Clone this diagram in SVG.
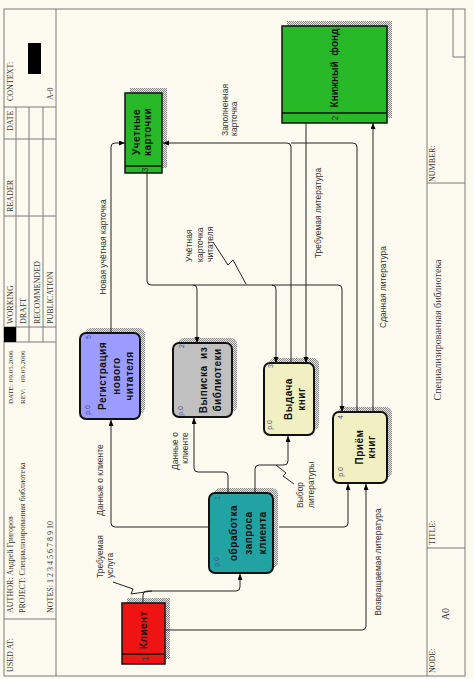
<svg xmlns="http://www.w3.org/2000/svg" width="474" height="679" viewBox="0 0 474 679">
<defs>
<pattern id="hatch" width="2" height="2" patternUnits="userSpaceOnUse">
<rect width="2" height="2" fill="#e4e4e4"/>
<rect width="1" height="1" fill="#8a8a8a"/>
<rect x="1" y="1" width="1" height="1" fill="#8a8a8a"/>
</pattern>
<marker id="ah" markerWidth="7" markerHeight="6" refX="6" refY="2.5" orient="auto" markerUnits="userSpaceOnUse">
<path d="M0,0 L6,2.5 L0,5 Z" fill="#000"/>
</marker>
<style>
.fr{fill:none;stroke:#7a7a7a;stroke-width:1}
.hd{font-family:"Liberation Serif","Times New Roman",serif;font-size:8px;fill:#333}
.hs{font-family:"Liberation Serif","Times New Roman",serif;font-size:7px;fill:#333}
.ttl{font-family:"Liberation Serif","Times New Roman",serif;font-size:10px;fill:#333}
.bx{font-family:"Liberation Sans",Arial,sans-serif;font-size:10px;font-weight:bold;fill:#111;letter-spacing:0.5px}
.lb{font-family:"Liberation Sans",Arial,sans-serif;font-size:8.5px;fill:#333}
.sm{font-family:"Liberation Sans",Arial,sans-serif;font-size:7px;fill:#4a4a8a}
.cn{fill:none;stroke:#222;stroke-width:1}
.ar{marker-end:url(#ah)}
.act{stroke:#111;stroke-width:2}
.ext{stroke:#111;stroke-width:1.5}
.sh{fill:url(#hatch)}
</style>
</defs>
<rect x="0" y="0" width="474" height="679" fill="#fdfbf0"/>

<g id="frame">
<rect x="4" y="9" width="461" height="667" class="fr"/>
<path class="fr" d="M56,9 V676 M427,9 V676 M4,107 H56 M4,139 H56 M4,216 H56 M4,327 H56 M4,342 H56 M4,619 H56 M16,107 V342 M29,107 V342 M43,107 V342 M427,183 H465 M427,548 H465 M453,9 V57 H465"/>
<rect x="28" y="43" width="13" height="31" fill="#000"/>
<rect x="4" y="327" width="12" height="15" fill="#000"/>
<text class="hd" transform="translate(13,101) rotate(-90)">CONTEXT:</text>
<text class="hd" transform="translate(53,100) rotate(-90)">A-0</text>
<text class="hd" transform="translate(13,131) rotate(-90)">DATE</text>
<text class="hd" transform="translate(13,212) rotate(-90)">READER</text>
<text class="hd" transform="translate(13,324) rotate(-90)">WORKING</text>
<text class="hd" transform="translate(26,324) rotate(-90)">DRAFT</text>
<text class="hd" transform="translate(40,324) rotate(-90)">RECOMMENDED</text>
<text class="hd" transform="translate(53,324) rotate(-90)">PUBLICATION</text>
<text class="hs" transform="translate(13,404) rotate(-90)">DATE:</text>
<text class="hs" transform="translate(13,382) rotate(-90)">09.05.2006</text>
<text class="hs" transform="translate(25,404) rotate(-90)">REV:</text>
<text class="hs" transform="translate(25,382) rotate(-90)">09.05.2006</text>
<text class="hd" transform="translate(13,613) rotate(-90)">AUTHOR:  Андрей Григоров</text>
<text class="hd" transform="translate(25,613) rotate(-90)">PROJECT:  Специализированная библиотека</text>
<text class="hd" transform="translate(53,613) rotate(-90)">NOTES:  1  2  3  4  5  6  7  8  9  10</text>
<text class="hd" transform="translate(13,672) rotate(-90)">USED AT:</text>
<text class="hd" transform="translate(435,182) rotate(-90)">NUMBER:</text>
<text class="hd" transform="translate(435,545) rotate(-90)">TITLE:</text>
<text class="hd" transform="translate(435,673) rotate(-90)">NODE:</text>
<text class="ttl" transform="translate(445,614) rotate(-90)" text-anchor="middle" dominant-baseline="central">A0</text>
<text class="ttl" transform="translate(437,330) rotate(-90)" text-anchor="middle" dominant-baseline="central">Специализированная библиотека</text>
</g>

<g id="ext3">
<rect x="130" y="88" width="37" height="80" class="sh"/>
<rect x="125" y="93" width="37" height="80" fill="#27b927" class="ext"/>
<path d="M125,166 H162" class="ext"/>
<text class="bx" transform="translate(136,132) rotate(-90)" text-anchor="middle" dominant-baseline="central">Учетные</text>
<text class="bx" transform="translate(147,132) rotate(-90)" text-anchor="middle" dominant-baseline="central">карточки</text>
<text class="lb" transform="translate(144.5,170) rotate(-90)" text-anchor="middle" dominant-baseline="central">3</text>
</g>

<g id="ext2">
<rect x="287" y="21" width="105" height="97" class="sh"/>
<rect x="282" y="26" width="105" height="97" fill="#27b927" class="ext"/>
<path d="M282,113 H387" class="ext"/>
<text class="bx" transform="translate(334,68) rotate(-90)" text-anchor="middle" dominant-baseline="central" style="letter-spacing:0" xml:space="preserve">Книжный  фонд</text>
<text class="lb" transform="translate(335,118) rotate(-90)" text-anchor="middle" dominant-baseline="central">2</text>
</g>

<g id="ext1">
<rect x="127" y="598" width="43" height="61" class="sh"/>
<rect x="122" y="603" width="43" height="61" fill="#ee1414" class="ext"/>
<path d="M122,654 H165" class="ext"/>
<text class="bx" transform="translate(143,630) rotate(-90)" text-anchor="middle" dominant-baseline="central">Клиент</text>
<text class="lb" transform="translate(145,659) rotate(-90)" text-anchor="middle" dominant-baseline="central">1</text>
</g>

<g id="box5">
<rect x="85" y="328" width="60" height="86" rx="6" class="sh"/>
<rect x="80" y="333" width="60" height="86" rx="6" fill="#9c9cff" class="act"/>
<text class="bx" transform="translate(102,376) rotate(-90)" text-anchor="middle" dominant-baseline="central">Регистрация</text>
<text class="bx" transform="translate(116,376) rotate(-90)" text-anchor="middle" dominant-baseline="central">нового</text>
<text class="bx" transform="translate(129,376) rotate(-90)" text-anchor="middle" dominant-baseline="central">читателя</text>
<text class="sm" transform="translate(88,337) rotate(-90)" text-anchor="middle" dominant-baseline="central">5</text>
<text class="sm" transform="translate(87.5,410) rotate(-90)" text-anchor="middle" dominant-baseline="central">р.0</text>
</g>

<g id="box2">
<rect x="178" y="338" width="59" height="74" rx="6" class="sh"/>
<rect x="173" y="343" width="59" height="74" rx="6" fill="#c0c0c0" class="act"/>
<text class="bx" transform="translate(203,380) rotate(-90)" text-anchor="middle" dominant-baseline="central" xml:space="preserve">Выписка  из</text>
<text class="bx" transform="translate(217,380) rotate(-90)" text-anchor="middle" dominant-baseline="central">библиотеки</text>
<text class="sm" transform="translate(181.5,346) rotate(-90)" text-anchor="middle" dominant-baseline="central">2</text>
<text class="sm" transform="translate(180.5,411) rotate(-90)" text-anchor="middle" dominant-baseline="central">р.0</text>
</g>

<g id="box3">
<rect x="269" y="358" width="50" height="72" rx="6" class="sh"/>
<rect x="264" y="363" width="50" height="72" rx="6" fill="#f1f0c2" class="act"/>
<text class="bx" transform="translate(288,399) rotate(-90)" text-anchor="middle" dominant-baseline="central">Выдача</text>
<text class="bx" transform="translate(301,399) rotate(-90)" text-anchor="middle" dominant-baseline="central">книг</text>
<text class="sm" transform="translate(270,366) rotate(-90)" text-anchor="middle" dominant-baseline="central">3</text>
<text class="sm" transform="translate(269,425) rotate(-90)" text-anchor="middle" dominant-baseline="central">р.0</text>
</g>

<g id="box4">
<rect x="338" y="407" width="54" height="71" rx="6" class="sh"/>
<rect x="333" y="412" width="54" height="71" rx="6" fill="#f1f0c2" class="act"/>
<text class="bx" transform="translate(359,447) rotate(-90)" text-anchor="middle" dominant-baseline="central">Приём</text>
<text class="bx" transform="translate(371,447) rotate(-90)" text-anchor="middle" dominant-baseline="central">книг</text>
<text class="sm" transform="translate(340,417) rotate(-90)" text-anchor="middle" dominant-baseline="central">4</text>
<text class="sm" transform="translate(340,472) rotate(-90)" text-anchor="middle" dominant-baseline="central">р.0</text>
</g>

<g id="box1">
<rect x="214" y="488" width="64" height="80" rx="6" class="sh"/>
<rect x="209" y="493" width="64" height="80" rx="6" fill="#22a3a3" class="act"/>
<text class="bx" transform="translate(233,533) rotate(-90)" text-anchor="middle" dominant-baseline="central">обработка</text>
<text class="bx" transform="translate(248,533) rotate(-90)" text-anchor="middle" dominant-baseline="central">запроса</text>
<text class="bx" transform="translate(262,533) rotate(-90)" text-anchor="middle" dominant-baseline="central">клиента</text>
<text class="sm" transform="translate(217,498) rotate(-90)" text-anchor="middle" dominant-baseline="central">1</text>
<text class="sm" transform="translate(216,562) rotate(-90)" text-anchor="middle" dominant-baseline="central">р.0</text>
</g>

<g id="connectors">
<path class="cn ar" d="M143,603 V595 Q143,591 147,591 H236 Q240,591 240,587 V574"/>
<path class="cn" d="M113,582 L133,589 L131,594 L152,591"/>
<path class="cn ar" d="M165,630 H362 Q366,630 366,626 V484"/>
<path class="cn ar" d="M209,527 H115 Q111,527 111,523 V420"/>
<path class="cn ar" d="M279,527 H344 Q348,527 348,523 V484"/>
<path class="cn ar" d="M228,493 V476 Q228,472 224,472 H198 Q194,472 194,468 V418"/>
<path class="cn ar" d="M255,493 V469 Q255,465 259,465 H284 Q288,465 288,461 V436"/>
<path class="cn" d="M276,465 L286,473 L283,476 L294,484"/>
<path class="cn ar" d="M111,333 V147 Q111,143 115,143 H125"/>
<path class="cn ar" d="M147,173 V281 Q147,285 151,285 H338 Q342,285 342,289 V412"/>
<path class="cn ar" d="M193,285 Q197,285 197,289 V343"/>
<path class="cn ar" d="M272,285 Q276,285 276,289 V363"/>
<path class="cn" d="M213,242 L228,265 L233,260 L246,284"/>
<path class="cn ar" d="M291,363 V147 Q291,143 287,143 H163"/>
<path class="cn" d="M357,412 V147 Q357,143 353,143 H291"/>
<path class="cn ar" d="M306,123 V363"/>
<path class="cn ar" d="M373,412 V123"/>
<text class="lb" transform="translate(103,247) rotate(-90)" text-anchor="middle" dominant-baseline="central">Новая учётная карточка</text>
<text class="lb" transform="translate(189,262) rotate(-90)" dominant-baseline="central">Учётная</text>
<text class="lb" transform="translate(200,262) rotate(-90)" dominant-baseline="central">карточка</text>
<text class="lb" transform="translate(210,262) rotate(-90)" dominant-baseline="central">читателя</text>
<text class="lb" transform="translate(225,136) rotate(-90)" dominant-baseline="central">Заполненная</text>
<text class="lb" transform="translate(234,136) rotate(-90)" dominant-baseline="central">карточка</text>
<text class="lb" transform="translate(318,213) rotate(-90)" text-anchor="middle" dominant-baseline="central">Требуемая литература</text>
<text class="lb" transform="translate(383,287) rotate(-90)" text-anchor="middle" dominant-baseline="central">Сданная литература</text>
<text class="lb" transform="translate(100,480) rotate(-90)" text-anchor="middle" dominant-baseline="central">Данные о клиенте</text>
<text class="lb" transform="translate(175,451) rotate(-90)" text-anchor="middle" dominant-baseline="central">Данные о</text>
<text class="lb" transform="translate(185,448) rotate(-90)" text-anchor="middle" dominant-baseline="central">клиенте</text>
<text class="lb" transform="translate(300,508) rotate(-90)" dominant-baseline="central">Выбор</text>
<text class="lb" transform="translate(311,508) rotate(-90)" dominant-baseline="central">литературы</text>
<text class="lb" transform="translate(100,578) rotate(-90)" dominant-baseline="central">Требуемая</text>
<text class="lb" transform="translate(110,578) rotate(-90)" dominant-baseline="central">услуга</text>
<text class="lb" transform="translate(378,562) rotate(-90)" text-anchor="middle" dominant-baseline="central">Возвращаемая литература</text>
</g>
</svg>
